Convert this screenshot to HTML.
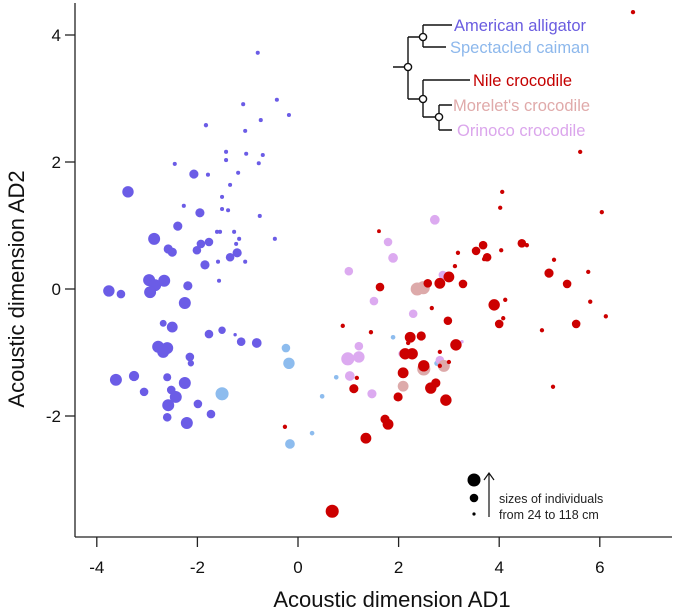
<!DOCTYPE html>
<html><head><meta charset="utf-8"><style>
html,body{margin:0;padding:0;background:#fff;}
svg{display:block;font-family:"Liberation Sans",Arial,sans-serif;}
</style></head><body>
<svg id="chart" width="675" height="613" viewBox="0 0 675 613">
<g id="axes"></g>
<g id="points"></g>
<g id="tree" stroke="#111" stroke-width="1.4" fill="none">
<path d="M393 67H408M408 37V99M408 37H423M423 25V47M423 25H452M423 47H446M408 99H423M423 80V117M423 80H470M423 117H439M439 105V130M439 105H452M439 130H452"/>
<circle cx="408" cy="67" r="3.6" fill="#fff"/><circle cx="423" cy="37" r="3.6" fill="#fff"/><circle cx="423" cy="99" r="3.6" fill="#fff"/><circle cx="439" cy="117" r="3.6" fill="#fff"/>
</g>
<g font-size="16.5">
<text x="454" y="31" fill="#6a5ce0">American alligator</text>
<text x="450" y="53" fill="#8db8ec">Spectacled caiman</text>
<text x="473" y="86" fill="#c40000">Nile crocodile</text>
<text x="453" y="111" fill="#e0aaaa">Morelet's crocodile</text>
<text x="457" y="136" fill="#dba6ec">Orinoco crocodile</text>
</g>
<g>
<circle cx="474" cy="480" r="6.5" fill="#000"/><circle cx="474" cy="498" r="4.3" fill="#000"/><circle cx="474" cy="514" r="1.6" fill="#000"/>
<path d="M489 517V473M484 480L489 473L494 480" stroke="#111" stroke-width="1.2" fill="none"/>
<text x="499" y="503" font-size="12.5" fill="#222">sizes of individuals</text>
<text x="499" y="519" font-size="12.5" fill="#222">from 24 to 118 cm</text>
</g>
</svg>
<script>
const xTicks=[-4,-2,0,2,4,6];
const yTicks=[-2,0,2,4];
const alligatorX=[-3.38,-2.86,-2.07,-1.95,-2.39,-2.58,-2.50,-2.01,-1.93,-1.77,-1.85,-1.35,-1.21,-2.96,-2.66,-2.84,-2.94,-3.76,-3.52,-2.19,-2.25,-0.80,-1.09,-0.42,-0.18,-1.83,-0.74,-1.05,-1.43,-1.03,-0.70,-1.43,-0.78,-2.45,-1.79,-1.19,-1.35,-1.51,-2.27,-1.51,-1.39,-0.76,-1.61,-1.55,-1.27,-1.17,-0.46,-1.23,-1.59,-1.05,-1.57,-2.68,-2.50,-1.77,-1.51,-1.25,-1.13,-0.82,-2.78,-2.60,-2.68,-2.15,-2.13,-3.62,-3.26,-2.60,-2.25,-2.52,-2.43,-3.06,-2.58,-1.99,-2.60,-1.73,-2.21];
const alligatorY=[1.53,0.79,1.81,1.20,0.99,0.63,0.58,0.61,0.71,0.74,0.38,0.50,0.57,0.14,0.13,0.06,-0.05,-0.03,-0.08,0.05,-0.22,3.72,2.91,2.98,2.74,2.58,2.66,2.49,2.16,2.13,2.11,2.03,1.98,1.97,1.80,1.83,1.64,1.45,1.31,1.26,1.24,1.15,0.90,0.90,0.90,0.79,0.79,0.71,0.43,0.43,0.13,-0.54,-0.60,-0.71,-0.65,-0.72,-0.83,-0.85,-0.91,-0.93,-0.99,-1.07,-1.17,-1.43,-1.37,-1.39,-1.48,-1.59,-1.70,-1.62,-1.83,-1.81,-2.02,-1.97,-2.11];
const alligatorSize=[95,100,75,75,75,75,75,70,70,70,75,70,75,100,100,100,100,95,70,75,100,30,30,30,30,32,30,30,30,30,30,30,30,30,30,30,30,30,30,30,30,30,30,30,30,30,30,30,30,30,30,55,90,70,60,24,70,80,100,100,100,70,50,100,85,65,100,70,100,70,100,70,70,70,100];
const caimanX=[-0.24,-0.18,-1.51,0.76,0.48,0.28,-0.16,1.89,2.76];
const caimanY=[-0.93,-1.17,-1.65,-1.39,-1.69,-2.27,-2.44,-0.76,-1.17];
const caimanSize=[70,95,110,35,35,35,80,35,40];
const orinocoX=[2.72,1.79,1.89,1.01,1.51,2.29,1.21,0.99,1.21,1.03,1.47,3.26,2.07,2.82,2.88];
const orinocoY=[1.09,0.74,0.49,0.28,-0.19,-0.39,-0.90,-1.10,-1.07,-1.37,-1.65,-0.83,-1.02,-1.12,0.22];
const orinocoSize=[80,70,80,70,70,70,70,110,95,80,75,24,60,70,70];
const moreletX=[2.37,2.49,2.50,2.90,2.09];
const moreletY=[0.00,0.02,-1.26,-1.21,-1.53];
const moreletSize=[110,110,110,100,90];
const nileX=[-0.26,0.68,6.66,5.61,4.06,4.02,6.04,1.61,3.54,3.68,3.18,4.04,4.45,4.55,3.70,3.76,5.09,3.12,4.99,5.77,3.00,2.82,2.58,3.28,5.35,1.63,3.90,4.12,5.81,2.66,4.08,6.12,2.98,4.00,5.53,4.85,0.89,1.45,2.23,2.45,2.19,3.14,2.13,2.27,2.82,3.00,2.82,2.50,2.09,1.17,1.11,2.74,2.64,1.99,2.94,5.07,1.73,1.79,1.35];
const nileY=[-2.17,-3.50,4.36,2.16,1.53,1.28,1.21,0.91,0.60,0.69,0.57,0.61,0.72,0.69,0.47,0.50,0.46,0.36,0.25,0.27,0.19,0.09,0.09,0.08,0.08,0.03,-0.25,-0.17,-0.20,-0.30,-0.46,-0.43,-0.50,-0.55,-0.55,-0.65,-0.58,-0.68,-0.76,-0.74,-0.85,-0.88,-1.02,-1.02,-0.99,-1.15,-1.21,-1.21,-1.32,-1.40,-1.57,-1.48,-1.56,-1.70,-1.75,-1.54,-2.05,-2.13,-2.35];
const nileSize=[32,110,32,32,32,32,32,28,70,70,32,32,70,32,32,70,32,32,75,32,90,90,70,70,70,70,95,32,32,32,32,32,70,70,70,32,32,32,90,75,32,95,95,95,32,32,32,95,90,32,75,75,95,75,95,32,75,90,90];

const NS='http://www.w3.org/2000/svg';
const X0=75,X1=672,Y0=3,Y1=537;
function sx(v){return 298+v*50.3;}
function sy(v){return 289-v*63.5;}
function rad(s){return 1.7+(s-24)/94*5.3;}
function mk(tag,attrs,parent){const e=document.createElementNS(NS,tag);for(const k in attrs)e.setAttribute(k,attrs[k]);parent.appendChild(e);return e;}
const ax=document.getElementById('axes');
const yl=mk('line',{x1:X0,y1:Y0,x2:X0,y2:Y1,stroke:'#222','stroke-width':1.3},ax);


const xl=mk('line',{x1:X0,y1:Y1,x2:X1,y2:Y1,stroke:'#222','stroke-width':1.3},ax);


xTicks.forEach(t=>{
  const l=mk('line',{x1:sx(t),x2:sx(t),y1:Y1,y2:Y1+10,stroke:'#222','stroke-width':1.3},ax);
  
  
  const tx=mk('text',{x:sx(t),y:Y1+36,'text-anchor':'middle','font-size':17,fill:'#111'},ax);
  tx.textContent=t;
  
  
});
yTicks.forEach(t=>{
  const l=mk('line',{x1:X0-10,x2:X0,y1:sy(t),y2:sy(t),stroke:'#222','stroke-width':1.3},ax);
  
  
  const tx=mk('text',{x:X0-14,y:sy(t)+6,'text-anchor':'end','font-size':17,fill:'#111'},ax);
  tx.textContent=t;
  
  
});
const xt=mk('text',{x:392,y:607,'text-anchor':'middle','font-size':22,fill:'#111'},ax);
xt.textContent='Acoustic dimension AD1';


const yt=mk('text',{x:0,y:0,'text-anchor':'middle','font-size':22,fill:'#111',transform:'translate(24,289) rotate(-90)'},ax);
yt.textContent='Acoustic dimension AD2';



const pg=document.getElementById('points');
function series(xs,ys,ss,color,name){
  const g=mk('g',{fill:color},pg);
  
  
  xs.forEach((x,i)=>{
    const c=mk('circle',{cx:sx(x),cy:sy(ys[i]),r:rad(ss[i])},g);
    
    
  });
}
series(alligatorX,alligatorY,alligatorSize,'#6b5ce6','american-alligator');
series(caimanX,caimanY,caimanSize,'#8dbcee','spectacled-caiman');
series(orinocoX,orinocoY,orinocoSize,'#dcaaf0','orinoco-crocodile');
series(moreletX,moreletY,moreletSize,'#ddaaaa','morelets-crocodile');
series(nileX,nileY,nileSize,'#cc0000','nile-crocodile');
</script>
</body></html>
